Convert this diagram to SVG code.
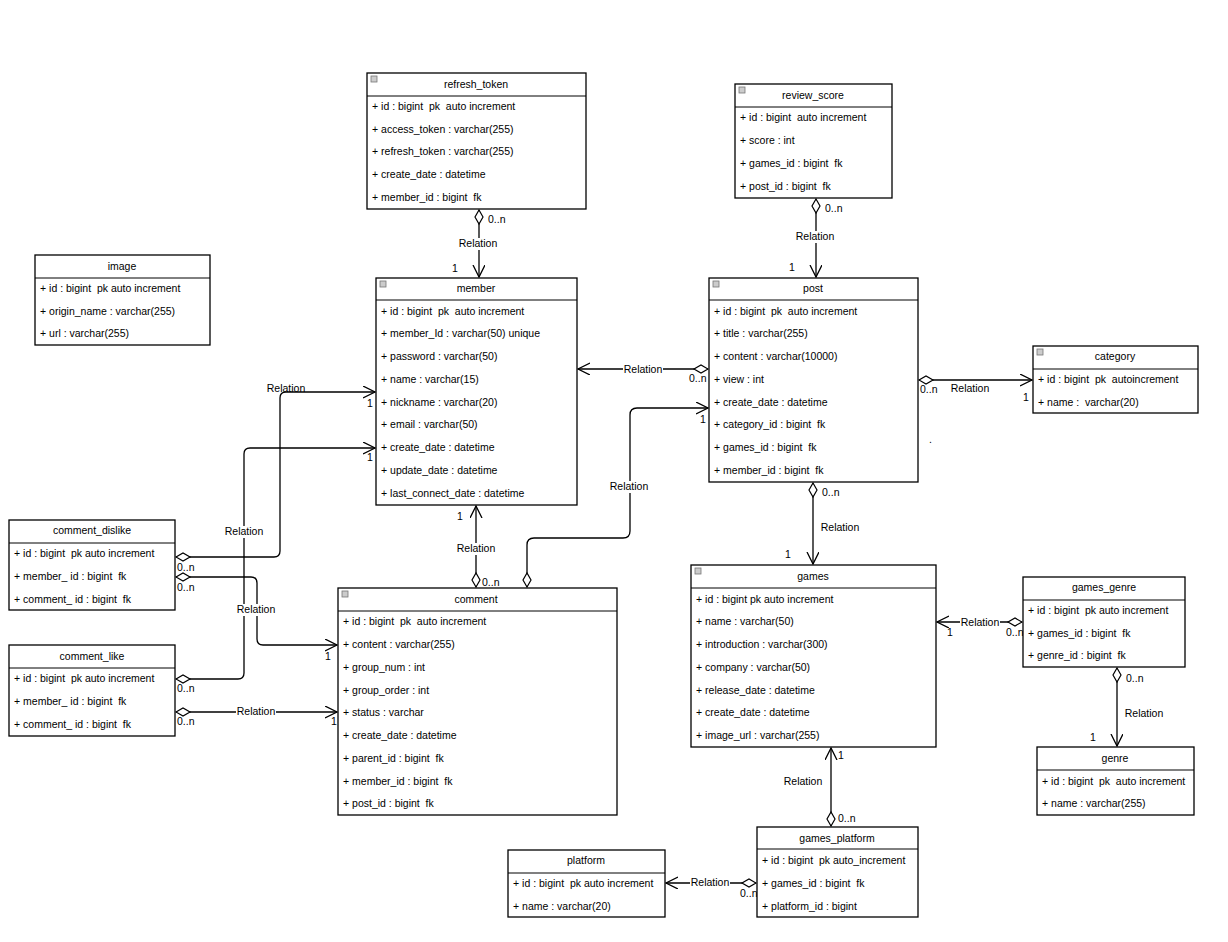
<svg xmlns="http://www.w3.org/2000/svg" width="1228" height="942" viewBox="0 0 1228 942">
<style>
text{font-family:"Liberation Sans",Arial,sans-serif;font-size:10.5px;fill:#000;white-space:pre}
.t{text-anchor:middle}
.b{fill:#fff;stroke:#000;stroke-width:1.3}
.h{stroke:#000;stroke-width:1}
.i{fill:#ccc;stroke:#777;stroke-width:0.8}
.c{fill:none;stroke:#000;stroke-width:1.3}
.lb{fill:#fff}
</style>
<defs>
<marker id="ar" markerWidth="14" markerHeight="14" refX="12" refY="6" orient="auto" markerUnits="userSpaceOnUse"><path d="M0,0 L12,6 L0,12" fill="none" stroke="#000" stroke-width="1.3"/></marker>
<marker id="dm" markerWidth="18" markerHeight="10" refX="1" refY="5" orient="auto" markerUnits="userSpaceOnUse"><path d="M1,5 L8,1 L15,5 L8,9 Z" fill="#fff" stroke="#000" stroke-width="1.2"/></marker>
</defs>
<rect width="1228" height="942" fill="#fff"/>

<g id="connectors">
<path class="c" d="M479,210 V277" marker-start="url(#dm)" marker-end="url(#ar)"/>
<path class="c" d="M816,199 V277" marker-start="url(#dm)" marker-end="url(#ar)"/>
<path class="c" d="M708,369 H578" marker-start="url(#dm)" marker-end="url(#ar)"/>
<path class="c" d="M919,380 H1032" marker-start="url(#dm)" marker-end="url(#ar)"/>
<path class="c" d="M813,483 V564" marker-start="url(#dm)" marker-end="url(#ar)"/>
<path class="c" d="M476,587 V506" marker-start="url(#dm)" marker-end="url(#ar)"/>
<path class="c" d="M527,587 V545 Q527,538 534,538 H623 Q630,538 630,531 V415 Q630,408 637,408 H708" marker-start="url(#dm)" marker-end="url(#ar)"/>
<path class="c" d="M176,557 H274 Q280,557 280,551 V398 Q280,392 286,392 H375" marker-start="url(#dm)" marker-end="url(#ar)"/>
<path class="c" d="M176,679 H238 Q244,679 244,673 V454 Q244,448 250,448 H375" marker-start="url(#dm)" marker-end="url(#ar)"/>
<path class="c" d="M176,577 H251 Q257,577 257,583 V639 Q257,645 263,645 H337" marker-start="url(#dm)" marker-end="url(#ar)"/>
<path class="c" d="M176,712 H337" marker-start="url(#dm)" marker-end="url(#ar)"/>
<path class="c" d="M1022,622 H937" marker-start="url(#dm)" marker-end="url(#ar)"/>
<path class="c" d="M1117,668 V746" marker-start="url(#dm)" marker-end="url(#ar)"/>
<path class="c" d="M831,826 V748" marker-start="url(#dm)" marker-end="url(#ar)"/>
<path class="c" d="M756,883 H666" marker-start="url(#dm)" marker-end="url(#ar)"/>
<g>
<rect class="lb" x="458" y="238" width="40" height="12"/><text class="t" x="478" y="247">Relation</text>
<text x="488" y="223">0..n</text><text x="452" y="272">1</text>
<rect class="lb" x="795" y="231" width="40" height="12"/><text class="t" x="815" y="240">Relation</text>
<text x="825" y="212">0..n</text><text x="789" y="271">1</text>
<rect class="lb" x="623" y="364" width="40" height="12"/><text class="t" x="643" y="373">Relation</text>
<text x="571" y="383">1</text><text x="689" y="382">0..n</text>
<rect class="lb" x="950" y="383" width="40" height="12"/><text class="t" x="970" y="392">Relation</text>
<text x="920" y="393">0..n</text><text x="1023" y="401">1</text>
<rect class="lb" x="820" y="522" width="40" height="12"/><text class="t" x="840" y="531">Relation</text>
<text x="822" y="496">0..n</text><text x="785" y="558">1</text>
<rect class="lb" x="456" y="543" width="40" height="12"/><text class="t" x="476" y="552">Relation</text>
<text x="482" y="586">0..n</text><text x="457" y="520">1</text>
<rect class="lb" x="609" y="481" width="40" height="12"/><text class="t" x="629" y="490">Relation</text>
<text x="528" y="601">0..n</text><text x="700" y="423">1</text>
<text class="t" x="286" y="392">Relation</text><text x="367" y="407">1</text>
<rect class="lb" x="224" y="526" width="40" height="12"/><text class="t" x="244" y="535">Relation</text><text x="367" y="461">1</text>
<rect class="lb" x="236" y="604" width="40" height="12"/><text class="t" x="256" y="613">Relation</text><text x="325" y="660">1</text>
<text x="177" y="571">0..n</text><text x="177" y="591">0..n</text>
<text x="177" y="692">0..n</text><text x="177" y="725">0..n</text>
<rect class="lb" x="236" y="706" width="40" height="12"/><text class="t" x="256" y="715">Relation</text><text x="331" y="725">1</text>
<rect class="lb" x="960" y="617" width="40" height="12"/><text class="t" x="980" y="626">Relation</text>
<text x="947" y="636">1</text><text x="1006" y="636">0..n</text>
<rect class="lb" x="1124" y="708" width="40" height="12"/><text class="t" x="1144" y="717">Relation</text>
<text x="1126" y="682">0..n</text><text x="1090" y="741">1</text>
<rect class="lb" x="783" y="776" width="40" height="12"/><text class="t" x="803" y="785">Relation</text>
<text x="838" y="822">0..n</text><text x="838" y="759">1</text>
<rect class="lb" x="690" y="877" width="40" height="12"/><text class="t" x="710" y="886">Relation</text>
<text x="657" y="896">1</text><text x="740" y="897">0..n</text>
<text x="929" y="443">.</text>
</g>
</g>

<g id="refresh_token"><rect class="b" x="367" y="73" width="219" height="136"/><line class="h" x1="367" y1="96" x2="586" y2="96"/><rect class="i" x="371" y="76" width="6" height="6"/>
<text class="t" x="476" y="88">refresh_token</text>
<text x="372" y="110">+ id : bigint  pk  auto increment</text><text x="372" y="133">+ access_token : varchar(255)</text><text x="372" y="155">+ refresh_token : varchar(255)</text><text x="372" y="178">+ create_date : datetime</text><text x="372" y="201">+ member_id : bigint  fk</text></g>

<g id="review_score"><rect class="b" x="735" y="84" width="157" height="114"/><line class="h" x1="735" y1="107" x2="892" y2="107"/><rect class="i" x="739" y="87" width="6" height="6"/>
<text class="t" x="813" y="99">review_score</text>
<text x="740" y="121">+ id : bigint  auto increment</text><text x="740" y="144">+ score : int</text><text x="740" y="167">+ games_id : bigint  fk</text><text x="740" y="190">+ post_id : bigint  fk</text></g>

<g id="image"><rect class="b" x="35" y="255" width="175" height="90"/><line class="h" x1="35" y1="278" x2="210" y2="278"/>
<text class="t" x="122" y="270">image</text>
<text x="40" y="292">+ id : bigint  pk auto increment</text><text x="40" y="315">+ origin_name : varchar(255)</text><text x="40" y="337">+ url : varchar(255)</text></g>

<g id="member"><rect class="b" x="376" y="278" width="201" height="227"/><line class="h" x1="376" y1="300" x2="577" y2="300"/><rect class="i" x="380" y="281" width="6" height="6"/>
<text class="t" x="476" y="292">member</text>
<text x="381" y="315">+ id : bigint  pk  auto increment</text><text x="381" y="337">+ member_Id : varchar(50) unique</text><text x="381" y="360">+ password : varchar(50)</text><text x="381" y="383">+ name : varchar(15)</text><text x="381" y="406">+ nickname : varchar(20)</text><text x="381" y="428">+ email : varchar(50)</text><text x="381" y="451">+ create_date : datetime</text><text x="381" y="474">+ update_date : datetime</text><text x="381" y="497">+ last_connect_date : datetime</text></g>

<g id="post"><rect class="b" x="709" y="278" width="209" height="204"/><line class="h" x1="709" y1="300" x2="918" y2="300"/><rect class="i" x="713" y="281" width="6" height="6"/>
<text class="t" x="813" y="292">post</text>
<text x="714" y="315">+ id : bigint  pk  auto increment</text><text x="714" y="337">+ title : varchar(255)</text><text x="714" y="360">+ content : varchar(10000)</text><text x="714" y="383">+ view : int</text><text x="714" y="406">+ create_date : datetime</text><text x="714" y="428">+ category_id : bigint  fk</text><text x="714" y="451">+ games_id : bigint  fk</text><text x="714" y="474">+ member_id : bigint  fk</text></g>

<g id="category"><rect class="b" x="1033" y="346" width="165" height="67"/><line class="h" x1="1033" y1="369" x2="1198" y2="369"/><rect class="i" x="1037" y="349" width="6" height="6"/>
<text class="t" x="1115" y="360">category</text>
<text x="1038" y="383">+ id : bigint  pk  autoincrement</text><text x="1038" y="406">+ name :  varchar(20)</text></g>

<g id="comment_dislike"><rect class="b" x="9" y="520" width="166" height="90"/><line class="h" x1="9" y1="543" x2="175" y2="543"/>
<text class="t" x="92" y="534">comment_dislike</text>
<text x="14" y="557">+ id : bigint  pk auto increment</text><text x="14" y="580">+ member_ id : bigint  fk</text><text x="14" y="603">+ comment_ id : bigint  fk</text></g>

<g id="comment_like"><rect class="b" x="9" y="645" width="166" height="91"/><line class="h" x1="9" y1="668" x2="175" y2="668"/>
<text class="t" x="92" y="660">comment_like</text>
<text x="14" y="682">+ id : bigint  pk auto increment</text><text x="14" y="705">+ member_ id : bigint  fk</text><text x="14" y="728">+ comment_ id : bigint  fk</text></g>

<g id="comment"><rect class="b" x="338" y="588" width="279" height="227"/><line class="h" x1="338" y1="611" x2="617" y2="611"/><rect class="i" x="342" y="591" width="6" height="6"/>
<text class="t" x="476" y="603">comment</text>
<text x="343" y="625">+ id : bigint  pk  auto increment</text><text x="343" y="648">+ content : varchar(255)</text><text x="343" y="671">+ group_num : int</text><text x="343" y="694">+ group_order : int</text><text x="343" y="716">+ status : varchar</text><text x="343" y="739">+ create_date : datetime</text><text x="343" y="762">+ parent_id : bigint  fk</text><text x="343" y="785">+ member_id : bigint  fk</text><text x="343" y="807">+ post_id : bigint  fk</text></g>

<g id="games"><rect class="b" x="691" y="565" width="245" height="182"/><line class="h" x1="691" y1="588" x2="936" y2="588"/><rect class="i" x="695" y="568" width="6" height="6"/>
<text class="t" x="813" y="580">games</text>
<text x="696" y="603">+ id : bigint pk auto increment</text><text x="696" y="625">+ name : varchar(50)</text><text x="696" y="648">+ introduction : varchar(300)</text><text x="696" y="671">+ company : varchar(50)</text><text x="696" y="694">+ release_date : datetime</text><text x="696" y="716">+ create_date : datetime</text><text x="696" y="739">+ image_url : varchar(255)</text></g>

<g id="games_genre"><rect class="b" x="1023" y="577" width="162" height="90"/><line class="h" x1="1023" y1="600" x2="1185" y2="600"/>
<text class="t" x="1104" y="591">games_genre</text>
<text x="1028" y="614">+ id : bigint  pk auto increment</text><text x="1028" y="637">+ games_id : bigint  fk</text><text x="1028" y="659">+ genre_id : bigint  fk</text></g>

<g id="genre"><rect class="b" x="1037" y="747" width="157" height="68"/><line class="h" x1="1037" y1="770" x2="1194" y2="770"/>
<text class="t" x="1115" y="762">genre</text>
<text x="1042" y="785">+ id : bigint  pk  auto increment</text><text x="1042" y="807">+ name : varchar(255)</text></g>

<g id="games_platform"><rect class="b" x="757" y="827" width="161" height="90"/><line class="h" x1="757" y1="849" x2="918" y2="849"/>
<text class="t" x="837" y="842">games_platform</text>
<text x="762" y="864">+ id : bigint  pk auto_increment</text><text x="762" y="887">+ games_id : bigint  fk</text><text x="762" y="910">+ platform_id : bigint</text></g>

<g id="platform"><rect class="b" x="508" y="850" width="157" height="67"/><line class="h" x1="508" y1="873" x2="665" y2="873"/>
<text class="t" x="586" y="864">platform</text>
<text x="513" y="887">+ id : bigint  pk auto increment</text><text x="513" y="910">+ name : varchar(20)</text></g>
</svg>
